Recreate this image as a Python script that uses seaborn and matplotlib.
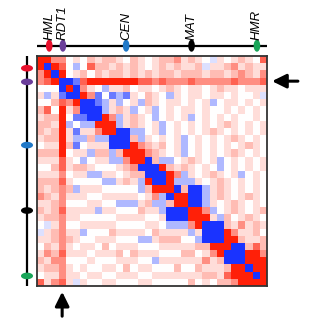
import numpy as np
import pandas as pd
import matplotlib
matplotlib.use("Agg")
import matplotlib.pyplot as plt
import seaborn as sns
from matplotlib.colors import LinearSegmentedColormap

# ---- data -------------------------------------------------------------
# colour levels of the contact-enrichment matrix (blue = depleted, red = enriched)
level_codes = {"X": -1.0, "B": -0.65, "b": -0.35, "v": -0.15, "w": 0.0,
               "l": 0.15, "p": 0.3, "q": 0.5, "r": 0.7, "R": 1.0}

# upper triangle of the symmetric 32x32 bin matrix, row i lists bins j = i..31
upper_rows = [
    "RRqqwlwplpplwplwlppqlplwvlwlplwr",
    "XRrwbwrpplplplwlplpllpvllpqlpll",
    "XRwlpwplpplplplpplppplpplpqplq",
    "XXBrRRRRRRRrrqrqqqrqqqqqrqqqr",
    "RXqlwbllpwllwlplwllwlpllwlll",
    "XRqBwBbBlwplwblwllwllwlwwlv",
    "XXBblbwlbplwllwlwlbwllwlwl",
    "XXblplbwlbwlwllwlwwlwlwlw",
    "XRqblplwbwlwlbwlwlwlwwlw",
    "RRblplwlbwlwlwlwlplwlwl",
    "RXXbbwlbwlwlwlplwlwlwl",
    "XXpblwlwlbwlwlwlplwlw",
    "XRqplpwlbwlwlwlwlplw",
    "RRqplwlbwlwlwlplwlw",
    "RXpbbwlplwlbwlwlwl",
    "XXRplplwlwbwlwlwl",
    "XXRqblwlplwlbwlw",
    "XRbbblwlplwlwlw",
    "RXpXXblplwlwlw",
    "RRXXblplwlplw",
    "RXXblwlplwlw",
    "RRqbwlplwlp",
    "RRlbpwlplw",
    "XXXplqlpl",
    "XXRqllpw",
    "XRRpllp",
    "RXXprp",
    "XXRRq",
    "XRRR",
    "XRR",
    "XR",
    "R",
]

# genomic landmarks (position in matrix bins) and their colours
landmark_names = ["HML", "RDT1", "CEN", "MAT", "HMR"]
landmark_bins = [1.7, 3.6, 12.4, 21.5, 30.6]
landmark_colors = ["#e8112d", "#6a3d9a", "#1f78c8", "#000000", "#18a558"]
highlight_bin = 3  # RDT1 row / column marked with arrows

# ---- build matrix -----------------------------------------------------
n = len(upper_rows)
M = np.zeros((n, n))
for i, row in enumerate(upper_rows):
    for k, ch in enumerate(row):
        j = i + k
        M[i, j] = level_codes[ch]
        M[j, i] = level_codes[ch]
df = pd.DataFrame(M)

# ---- figure -------------------------------------------------------------
W = H = 320
fig = plt.figure(figsize=(W / 100, H / 100), dpi=100)
L, T, S = 37, 56, 230
ax = fig.add_axes([L / W, 1 - (T + S) / H, S / W, S / H])

cmap = LinearSegmentedColormap.from_list("bwr2", ["#1a33ff", "#ffffff", "#ff2008"])
sns.heatmap(df, ax=ax, cmap=cmap, vmin=-1, vmax=1, cbar=False,
            xticklabels=False, yticklabels=False)
for s in ax.spines.values():
    s.set_visible(True)
    s.set_linewidth(1.3)
    s.set_color("#333333")

# ellipse marker
t = np.linspace(0, 2 * np.pi, 60)
ell = np.c_[0.55 * np.cos(t), np.sin(t)]

# top chromosome track
axt = fig.add_axes([L / W, 1 - 52 / H, S / W, 14 / H])
axt.set_xlim(0, n)
axt.set_ylim(-1, 1)
axt.axis("off")
axt.plot([0, n], [-0.1, -0.1], color="black", lw=1.6, solid_capstyle="butt")
axt.scatter(landmark_bins, [-0.1] * len(landmark_bins), marker=ell, s=75,
            c=landmark_colors, zorder=3, linewidths=0)
for name, b in zip(landmark_names, landmark_bins):
    axt.text(b, 0.75, name, rotation=90, ha="center", va="bottom",
             fontsize=9.5, fontstyle="italic", family="Liberation Sans")

# left chromosome track
axl = fig.add_axes([20 / W, 1 - (T + S) / H, 14 / W, S / H])
axl.set_ylim(n, 0)
axl.set_xlim(-1, 1)
axl.axis("off")
axl.plot([0, 0], [0, n], color="black", lw=1.6, solid_capstyle="butt")
axl.scatter([0] * len(landmark_bins), landmark_bins, marker=ell[:, ::-1], s=75,
            c=landmark_colors, zorder=3, linewidths=0)

# arrows pointing at RDT1 row / column
c = highlight_bin + 0.5
arrow = dict(arrowstyle="-|>,head_width=0.42,head_length=0.85", lw=2.2,
             color="black", shrinkA=0, shrinkB=0)
ax.annotate("", xy=(n + 0.7, c), xytext=(n + 4.3, c), arrowprops=arrow,
            annotation_clip=False)
ax.annotate("", xy=(c, n + 0.8), xytext=(c, n + 4.2), arrowprops=arrow,
            annotation_clip=False)

fig.savefig("out.png", dpi=100)
